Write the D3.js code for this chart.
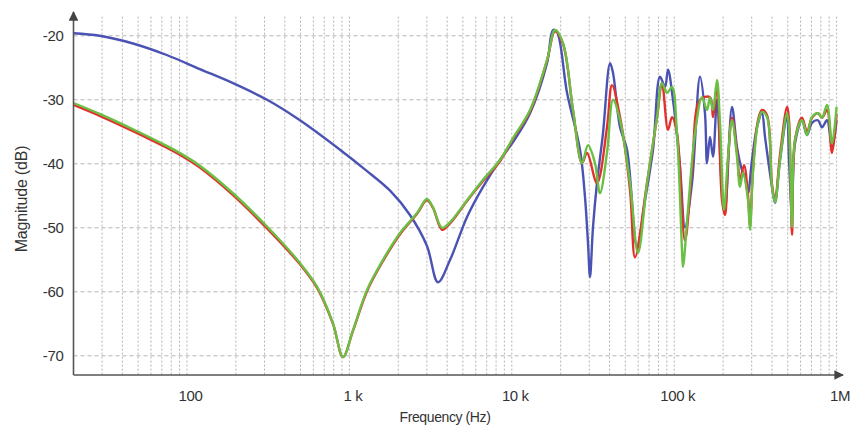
<!DOCTYPE html>
<html>
<head>
<meta charset="utf-8">
<script src="https://cdn.jsdelivr.net/npm/d3@7"></script>
<style>
  body { margin: 0; background: #fff; }
  svg text { font-family: "Liberation Sans", Arial, sans-serif; fill: #333; }
</style>
</head>
<body>
<svg id="chart" width="862" height="434"></svg>
<script>
// frequency response, [Hz, dB]
const blue = [
  [20, -19.6], [29, -20.0], [46.5, -21.2], [75, -23.0], [120, -25.2], [192, -27.4],
  [311, -30.0], [496, -33.2], [875, -37.8], [1250, -40.9], [1780, -44.2], [2360, -48.0],
  [3000, -52.8], [3510, -58.5], [4170, -55.0], [5300, -48.3], [6650, -43.6], [8460, -39.4],
  [10170, -36.6], [12950, -32.1], [16470, -24.3], [17940, -19.1], [18980, -19.4], [21880, -28.9],
  [26300, -37.8], [28230, -45.2], [29460, -52.4], [30300, -57.7], [31620, -49.9], [33460, -43.0],
  [36440, -35.2], [40250, -24.3], [42000, -25.8], [46380, -34.3], [51220, -37.8], [59020, -53.0],
  [66120, -45.7], [74050, -37.8], [81770, -26.4], [87780, -28.0], [91580, -25.3], [98310, -30.0],
  [108600, -40.5], [116500, -49.9], [128700, -43.0], [144200, -26.4], [154700, -32.1], [159200, -39.9],
  [166100, -35.8], [173400, -38.9], [183400, -30.0], [197000, -44.1], [205500, -47.2], [226900, -31.1],
  [243600, -37.4], [261500, -41.0], [272900, -42.1], [284700, -44.6], [301300, -39.4], [323500, -34.3],
  [347200, -32.1], [362400, -35.8], [400200, -43.6], [417600, -46.1], [448300, -39.4], [495000, -32.7],
  [509300, -39.4], [531500, -47.7], [554500, -36.8], [612300, -33.2], [657300, -35.5], [705500, -33.6],
  [768400, -33.2], [812800, -34.3], [872900, -33.2], [937000, -37.5], [1000000, -33.2]
];

const red = [
  [20, -30.8], [29, -32.5], [46.5, -34.9], [75, -37.5], [94.5, -38.9], [120, -40.6], [192, -44.9],
  [311, -50.1], [496, -55.7], [632, -59.4], [792, -65.0], [913, -70.2], [1052, -66.1], [1284, -59.9],
  [1610, -55.2], [2050, -51.0], [2610, -47.8], [3000, -45.7], [3270, -46.9], [3720, -50.3], [4170, -49.3],
  [5300, -45.8], [6650, -42.7], [8460, -39.6], [10170, -36.1], [12950, -31.8], [16470, -23.9], [18450, -19.3],
  [20670, -21.3], [23810, -31.6], [27060, -39.9], [29050, -38.3], [33460, -43.0], [38560, -34.3],
  [41400, -27.7], [46380, -32.7], [53440, -44.1], [57370, -54.6], [68020, -43.0], [78390, -32.7],
  [84120, -27.4], [91580, -34.7], [96920, -32.7], [104000, -35.2], [116500, -52.0], [128700, -41.0],
  [144200, -30.0], [166100, -29.6], [173400, -32.7], [183400, -28.0], [197000, -45.7], [205500, -48.0],
  [214500, -39.4], [226900, -32.8], [243600, -38.2], [254200, -42.5], [269000, -40.2], [284700, -44.9],
  [292900, -49.6], [305500, -41.0], [328100, -33.2], [347200, -31.6], [372800, -32.4], [400200, -43.3],
  [417600, -45.7], [448300, -38.6], [495000, -31.1], [509300, -33.2], [531500, -51.1], [554500, -36.3],
  [612300, -32.8], [657300, -35.0], [705500, -32.8], [768400, -32.1], [812800, -32.8], [872900, -31.6],
  [937000, -38.3], [1000000, -32.2]
];

const green = [
  [20, -30.5], [29, -32.2], [46.5, -34.6], [75, -37.2], [94.5, -38.6], [120, -40.3], [192, -44.6],
  [311, -49.8], [496, -55.5], [632, -59.2], [792, -64.9], [913, -70.2], [1052, -66.0], [1284, -59.7],
  [1610, -55.0], [2050, -50.8], [2610, -47.7], [3000, -45.5], [3270, -46.8], [3720, -50.0], [4170, -49.1],
  [5300, -45.7], [6650, -42.5], [8460, -39.4], [10170, -36.0], [12950, -31.6], [16470, -23.8], [18450, -19.1],
  [20670, -21.1], [23810, -31.6], [27060, -39.9], [29460, -37.1], [32530, -39.9], [34920, -44.6],
  [38560, -38.3], [42000, -30.0], [46380, -33.2], [53440, -43.0], [59860, -53.9], [68020, -43.0],
  [78390, -32.7], [84120, -27.4], [90290, -28.9], [96920, -28.0], [104000, -35.2], [111700, -53.5],
  [113300, -56.1], [121600, -47.2], [134300, -35.2], [148400, -29.6], [159200, -31.6], [166100, -29.6],
  [173400, -31.6], [183400, -26.9], [191400, -33.6], [202600, -47.2], [214500, -38.9], [226900, -33.2],
  [243600, -38.9], [254200, -43.6], [265200, -41.4], [284700, -45.7], [292900, -50.3], [305500, -41.4],
  [328100, -33.6], [347200, -31.9], [372800, -32.7], [400200, -43.6], [417600, -46.0], [448300, -39.4],
  [495000, -32.1], [509300, -34.3], [531500, -49.9], [554500, -36.3], [612300, -33.2], [657300, -35.5],
  [705500, -32.7], [768400, -32.1], [812800, -32.8], [872900, -30.8], [937000, -36.8], [1000000, -31.1]
];

const series = [
  { name: "blue", data: blue, color: "#4a53b3" },
  { name: "red", data: red, color: "#e2312c" },
  { name: "green", data: green, color: "#6bbf45" }
];

const yTicks = [-20, -30, -40, -50, -60, -70];
const xTicks = [100, 1000, 10000, 100000, 1000000];
const xTickLabels = ["100", "1 k", "10 k", "100 k", "1M"];

const svg = d3.select("#chart");

const x = d3.scaleLog().domain([20, 1e6]).range([73.5, 836.6]);
const y = d3.scaleLinear().domain([-73, -17]).range([375, 16.6]);

//grid
const grid = svg.append("g").attr("class", "grid");
grid.selectAll("line.v")
  .data(x.ticks())
  .enter().append("line")
    .attr("class", "v")
    .attr("x1", d => x(d)).attr("x2", d => x(d))
    .attr("y1", y(-17)).attr("y2", y(-73))
    .attr("stroke", "#b4b4b4")
    .attr("stroke-width", 1)
    .attr("stroke-dasharray", "2,2");
grid.selectAll("line.h")
  .data(yTicks)
  .enter().append("line")
    .attr("class", "h")
    .attr("x1", x(20)).attr("x2", x(1e6))
    .attr("y1", d => y(d)).attr("y2", d => y(d))
    .attr("stroke", "#b4b4b4")
    .attr("stroke-width", 1)
    .attr("stroke-dasharray", "4,3");

//curves
const line = d3.line()
  .x(d => x(d[0]))
  .y(d => y(d[1]))
  .curve(d3.curveCatmullRom.alpha(0.5));

svg.append("g").selectAll("path")
  .data(series)
  .enter().append("path")
    .attr("d", d => line(d.data))
    .attr("fill", "none")
    .attr("stroke", d => d.color)
    .attr("stroke-width", 2.4)
    .attr("stroke-linejoin", "round");

//axes
const defs = svg.append("defs");
defs.append("marker")
  .attr("id", "arrow")
  .attr("viewBox", "0 0 10 10")
  .attr("refX", 9).attr("refY", 5)
  .attr("markerWidth", 6).attr("markerHeight", 6)
  .attr("orient", "auto")
  .append("path")
    .attr("d", "M0,0L10,5L0,10z")
    .attr("fill", "#444");

svg.append("line")
  .attr("x1", x(20)).attr("x2", 843)
  .attr("y1", 375).attr("y2", 375)
  .attr("stroke", "#555").attr("stroke-width", 1.6)
  .attr("marker-end", "url(#arrow)");
svg.append("line")
  .attr("x1", x(20)).attr("x2", x(20))
  .attr("y1", 375).attr("y2", 12)
  .attr("stroke", "#555").attr("stroke-width", 1.6)
  .attr("marker-end", "url(#arrow)");

const yAxis = svg.append("g")
  .attr("transform", `translate(${x(20)},0)`)
  .call(d3.axisLeft(y).tickValues(yTicks).tickSize(0).tickPadding(10)
    .tickFormat(d => String(d)));
yAxis.select(".domain").remove();
yAxis.selectAll("text")
  .attr("font-size", "15px")
  .attr("letter-spacing", "-0.3px")
  .style("font-family", "'Liberation Sans', Arial, sans-serif")
  .attr("fill", "#333");

const xAxis = svg.append("g")
  .attr("transform", "translate(0,375)")
  .call(d3.axisBottom(x).tickValues(xTicks).tickSize(0).tickPadding(15)
    .tickFormat((d, i) => xTickLabels[i]));
xAxis.select(".domain").remove();
xAxis.selectAll("text")
  .attr("font-size", "15px")
  .attr("letter-spacing", "-0.4px")
  .attr("dx", 3)
  .style("font-family", "'Liberation Sans', Arial, sans-serif")
  .attr("fill", "#333");

svg.append("text")
  .attr("x", 445).attr("y", 422)
  .attr("text-anchor", "middle")
  .attr("font-size", "14px")
  .attr("letter-spacing", "-0.4px")
  .text("Frequency (Hz)");

svg.append("text")
  .attr("transform", "translate(27,199) rotate(-90)")
  .attr("text-anchor", "middle")
  .attr("font-size", "16px")
  .attr("letter-spacing", "-0.2px")
  .text("Magnitude (dB)");
</script>
</body>
</html>
